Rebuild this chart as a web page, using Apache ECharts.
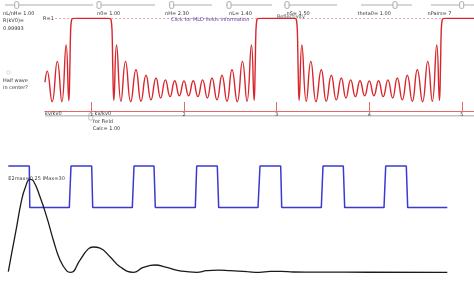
<!DOCTYPE html>
<html><head><meta charset="utf-8">
<script src="https://cdn.jsdelivr.net/npm/echarts@6/dist/echarts.min.js"></script>
<style>html,body{margin:0;padding:0;background:#fff}#c{width:474px;height:297px}</style>
</head><body><div id="c"></div>
<script>
// Reflectivity spectrum
const kv = [0.500,0.523,0.577,0.633,0.682,0.728,0.757,0.768,0.776,0.785,0.795,0.810,0.900,1.000,1.100,1.190,1.205,1.215,1.224,1.232,1.243,
1.272,1.320,1.369,1.425,1.482,1.536,1.590,1.644,1.698,1.748,1.799,1.850,1.900,1.950,2.000,2.050,2.100,2.150,2.201,2.252,2.302,2.356,2.410,2.464,2.518,2.575,2.631,2.680,2.728,
2.757,2.768,2.776,2.785,2.795,2.810,2.900,3.000,3.100,3.190,3.205,3.215,3.224,3.232,3.243,
3.272,3.320,3.369,3.425,3.482,3.536,3.590,3.644,3.698,3.748,3.799,3.850,3.900,3.950,4.000,4.050,4.100,4.150,4.201,4.252,4.302,4.356,4.410,4.464,4.518,4.575,4.631,4.680,4.728,
4.757,4.768,4.776,4.785,4.795,4.810,4.900,5.000,5.130];
const refl = [0.31,0.43,0.10,0.535,0.10,0.712,0.11,0.45,0.85,0.975,0.995,0.9995,0.99993,0.99993,0.99993,0.9995,0.995,0.975,0.85,0.45,0.115,
0.712,0.105,0.535,0.100,0.445,0.104,0.385,0.120,0.356,0.140,0.336,0.155,0.327,0.165,0.325,0.165,0.327,0.155,0.336,0.140,0.356,0.120,0.385,0.104,0.445,0.100,0.535,0.105,0.712,
0.115,0.45,0.85,0.975,0.995,0.9995,0.99993,0.99993,0.99993,0.9995,0.995,0.975,0.85,0.45,0.115,
0.712,0.105,0.535,0.100,0.445,0.104,0.385,0.120,0.356,0.140,0.336,0.155,0.327,0.165,0.325,0.165,0.327,0.155,0.336,0.140,0.356,0.120,0.385,0.104,0.445,0.100,0.535,0.105,0.712,
0.115,0.45,0.85,0.975,0.995,0.9995,0.99993,0.99993,0.99993];
const kvTicks = [1,2,3,4,5];

// Index profile (depth units, refractive index)
const layerDepth = [0,21,21.5,61,62.7,83.4,84.4,124,125.7,145.7,147,187,188.4,209,210.4,249.7,251.7,272.4,273.4,313,314.7,335,336.4,375.7,377.4,398,399.4,439];
const layerIndex = [2.3,2.3,1.4,1.4,2.3,2.3,1.4,1.4,2.3,2.3,1.4,1.4,2.3,2.3,1.4,1.4,2.3,2.3,1.4,1.4,2.3,2.3,1.4,1.4,2.3,2.3,1.4,1.4];

// Field intensity E^2 along depth
const fieldDepth = [0,4,8.4,13,17,21.7,25,31.7,38.4,45,51.7,58.4,62.4,71.7,80,85,91.7,101.7,111.7,125,135,146.7,158.4,171.7,188.4,198.4,210,221.7,239,251,262,273,285,314,360,439];
const fieldE2 = [0.002,0.06,0.123,0.19,0.228,0.25,0.246,0.203,0.149,0.087,0.033,0.004,0.0,0.033,0.063,0.068,0.065,0.042,0.015,0.0,0.013,0.0196,0.013,0.004,0.0,0.0043,0.006,0.0043,0.0016,0.0,0.0025,0.0025,0.0008,0.0003,0.0002,0.0];

const F = 'DejaVu Sans';
function txt(x, y, s, fill) {
  return {type:'text', x:x, y:y, silent:true, z:10,
    style:{text:s, fill:fill||'#333', font:'5px "DejaVu Sans"', textVerticalAlign:'middle', verticalAlign:'middle'}};
}
const tracks = [[5,93],[97,155],[169,212],[226,272],[284,337],[361,412],[431,474]];
const handles = [16.7,99,171.7,229,287,395,461.7];
const graphics = [];
tracks.forEach(t => graphics.push({type:'line', silent:true, shape:{x1:t[0],y1:5,x2:t[1],y2:5}, style:{stroke:'#c8c8c8', lineWidth:1.5}}));
handles.forEach(h => graphics.push({type:'rect', silent:true, z:5, shape:{x:h-2,y:1.7,width:4,height:6.6,r:1}, style:{fill:'#fff', stroke:'#9a9a9a', lineWidth:0.8}}));
graphics.push({type:'line', silent:true, shape:{x1:45,y1:115.7,x2:474,y2:115.7}, style:{stroke:'#c4c4c4', lineWidth:1.5}});
graphics.push({type:'rect', silent:true, z:5, shape:{x:88.8,y:113,width:4,height:7,r:1}, style:{fill:'none', stroke:'#a8a8a8', lineWidth:0.7}});
graphics.push({type:'rect', silent:true, shape:{x:7,y:71,width:3,height:3}, style:{fill:'#fff', stroke:'#ccc', lineWidth:0.6}});
[
  [3,13.3,'nL/nH= 1.00'],[3,21,'R(kV0)='],[3,28.3,'0.99993'],
  [97,13.3,'n0= 1.00'],[165,13.3,'nH= 2.30'],[229,13.3,'nL= 1.40'],[286.5,13.3,'nS= 1.50'],
  [357.5,13.3,'theta0= 1.00'],[427.5,13.3,'nPairs= 7'],
  [43,18.5,'R=1'],[3,80.7,'Half wave'],[3,87.7,'in center?'],
  [45,114,'kv/kv0'],[94.5,114,'kv/kv0'],[93,121.7,'for Field'],[92.7,129,'Calc= 1.00']
].forEach(a => graphics.push(txt(a[0],a[1],a[2])));
graphics.push(txt(277,16.5,'Reflectivity','#555'));
graphics.push(txt(171,19.6,'Click for MLD fields information','#5a3aa8'));
graphics.push(txt(8.3,178.3,'E2max=0.25 IMax=30','#444'));

const chart = echarts.init(document.getElementById('c'), null, {renderer:'canvas'});
chart.setOption({
  animation:false,
  backgroundColor:'#fff',
  grid:[
    {left:45, top:18.3, width:429, height:92.7},
    {left:8.3, top:160, width:439, height:112.3}
  ],
  xAxis:[
    {gridIndex:0, type:'value', min:0.5, max:5.13,
     axisLine:{lineStyle:{color:'#e46a6a', width:1}},
     axisTick:{inside:true, length:9, customValues:kvTicks, lineStyle:{color:'#e46a6a', width:1}},
     axisLabel:{customValues:kvTicks, fontSize:5, fontFamily:F, color:'#444', margin:1, showMinLabel:true, hideOverlap:false},
     splitLine:{show:false}},
    {gridIndex:1, type:'value', min:0, max:439, show:false}
  ],
  yAxis:[
    {gridIndex:0, type:'value', min:0, max:1, show:false},
    {gridIndex:1, type:'value', min:0, max:2.43, show:false},
    {gridIndex:1, type:'value', min:0, max:0.3019, show:false}
  ],
  series:[
    {type:'line', xAxisIndex:0, yAxisIndex:0, data:kv.map((k,i)=>[k,refl[i]]),
     smooth:0.5, symbol:'none', z:3,
     lineStyle:{color:'#d8262c', width:1.4},
     markLine:{silent:true, symbol:'none', label:{show:false}, z:1,
       lineStyle:{color:'#e98a8a', type:[2,2], width:0.8},
       data:[[{coord:[0.61,1]},{coord:[5.13,1]}]]}},
    {type:'line', xAxisIndex:1, yAxisIndex:1, data:layerDepth.map((d,i)=>[d,layerIndex[i]]),
     symbol:'none', lineStyle:{color:'#3a3acf', width:1.5}},
    {type:'line', xAxisIndex:1, yAxisIndex:2, data:fieldDepth.map((d,i)=>[d,fieldE2[i]]),
     smooth:0.5, symbol:'none', lineStyle:{color:'#1a1a1a', width:1.3}}
  ],
  graphic:graphics
});
</script>
</body></html>
